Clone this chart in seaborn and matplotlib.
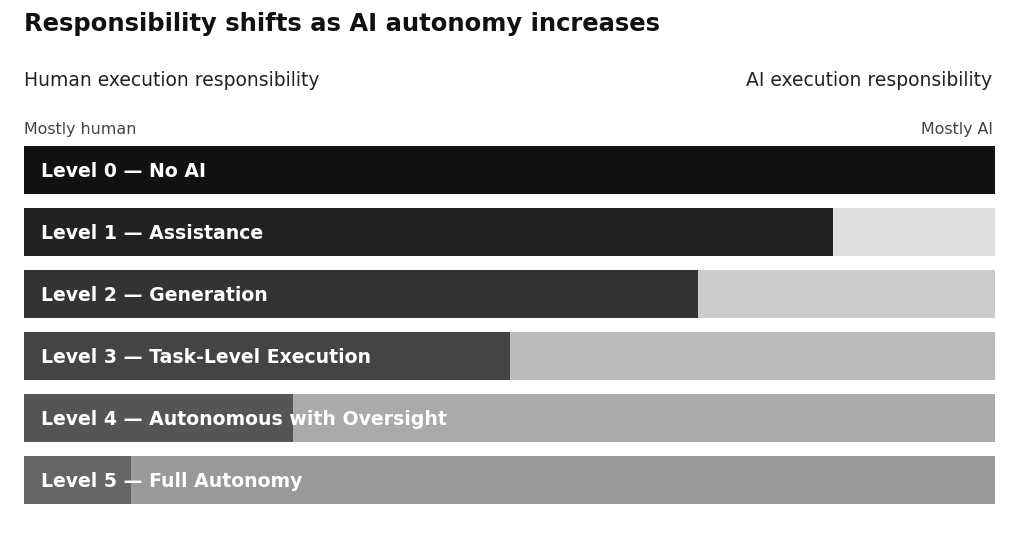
import matplotlib
matplotlib.use("Agg")
import matplotlib.pyplot as plt
import seaborn as sns
import pandas as pd

# data
levels = ["Level 0 — No AI", "Level 1 — Assistance", "Level 2 — Generation",
          "Level 3 — Task-Level Execution", "Level 4 — Autonomous with Oversight",
          "Level 5 — Full Autonomy"]
human_share = [100, 83.3, 69.4, 50, 27.7, 11]
ai_share = [100 - h for h in human_share]
human_colors = ["#111111", "#222222", "#333333", "#444444", "#555555", "#666666"]
ai_colors = ["#eeeeee", "#dddddd", "#cccccc", "#bbbbbb", "#aaaaaa", "#999999"]

df = pd.DataFrame({"level": levels, "human": human_share, "ai": ai_share})
df["total"] = df["human"] + df["ai"]

sns.set_theme(style="white")
plt.rcParams["font.family"] = ["DejaVu Sans"]

fig = plt.figure(figsize=(10.19, 5.39), dpi=100)
ax = fig.add_axes([24 / 1019, 1 - 511 / 539, 971 / 1019, 372 / 539])

# AI part drawn as the full-width background, human part on top
sns.barplot(data=df, x="total", y="level", hue="level", palette=ai_colors,
            dodge=False, legend=False, width=0.774, linewidth=0, ax=ax)
sns.barplot(data=df, x="human", y="level", hue="level", palette=human_colors,
            dodge=False, legend=False, width=0.774, linewidth=0, ax=ax)

for i, lab in enumerate(levels):
    ax.annotate(lab, xy=(0, i), xytext=(12.3, -1), textcoords="offset points",
                ha="left", va="center", color="white", fontsize=13.6,
                fontweight="bold")

ax.set_xlim(0, 100)
ax.set_ylim(5.5, -0.5)
ax.set_xlabel("")
ax.set_ylabel("")
ax.set_xticks([])
ax.set_yticks([])
sns.despine(ax=ax, left=True, bottom=True)

fig.text(24 / 1019, 1 - 24 / 539, "Responsibility shifts as AI autonomy increases",
         ha="left", va="center", fontsize=17.5, fontweight="bold", color="#111111")
fig.text(24 / 1019, 1 - 80 / 539, "Human execution responsibility",
         ha="left", va="center", fontsize=13.5, color="#222222")
fig.text(992 / 1019, 1 - 80 / 539, "AI execution responsibility",
         ha="right", va="center", fontsize=13.5, color="#222222")
fig.text(24 / 1019, 1 - 129 / 539, "Mostly human",
         ha="left", va="center", fontsize=11.4, color="#444444")
fig.text(993 / 1019, 1 - 129 / 539, "Mostly AI",
         ha="right", va="center", fontsize=11.4, color="#444444")

fig.savefig("out.png", dpi=100)
